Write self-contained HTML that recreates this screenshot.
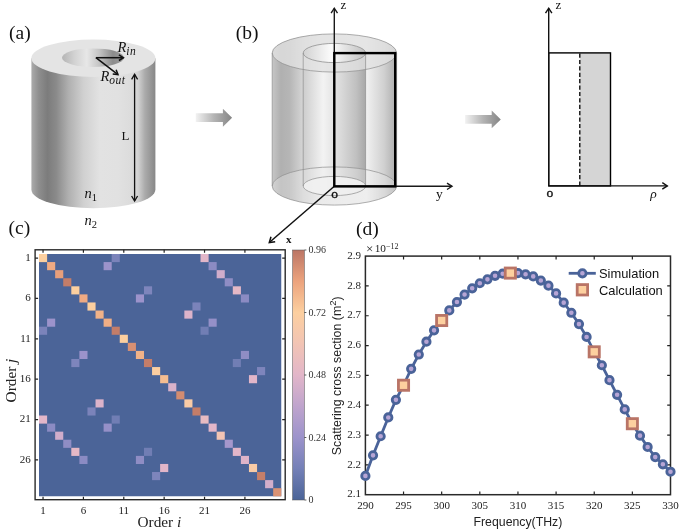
<!DOCTYPE html>
<html><head><meta charset="utf-8"><title>Figure</title>
<style>html,body{margin:0;padding:0;background:#fff}svg{display:block}</style></head>
<body>
<svg width="685" height="530" viewBox="0 0 685 530">
<defs>
<linearGradient id="gcyl" x1="0" x2="1" y1="0" y2="0">
<stop offset="0" stop-color="#ABABAB"/><stop offset="0.06" stop-color="#8E8E8E"/><stop offset="0.13" stop-color="#7C7C7C"/>
<stop offset="0.2" stop-color="#8A8A8A"/><stop offset="0.3" stop-color="#B0B0B0"/><stop offset="0.42" stop-color="#D0D0D0"/>
<stop offset="0.55" stop-color="#E2E2E2"/><stop offset="0.7" stop-color="#E1E1E1"/><stop offset="0.8" stop-color="#DCDCDC"/><stop offset="0.86" stop-color="#D2D2D2"/>
<stop offset="0.915" stop-color="#ABABAB"/><stop offset="1" stop-color="#878787"/></linearGradient>
<linearGradient id="ghole" x1="0" x2="1" y1="0" y2="0">
<stop offset="0" stop-color="#B4B4B4"/><stop offset="0.2" stop-color="#D2D2D2"/><stop offset="0.4" stop-color="#E7E7E7"/><stop offset="0.6" stop-color="#C4C4C4"/><stop offset="0.82" stop-color="#8C8C8C"/><stop offset="1" stop-color="#9C9C9C"/></linearGradient>
<linearGradient id="garr" x1="0" x2="1" y1="0" y2="0">
<stop offset="0" stop-color="#F2F2F2"/><stop offset="0.5" stop-color="#B4B4B4"/><stop offset="1" stop-color="#858585"/></linearGradient>
<linearGradient id="gb1" x1="0" x2="1" y1="0" y2="0">
<stop offset="0" stop-color="#C6C6C6"/><stop offset="0.07" stop-color="#B0B0B0"/><stop offset="0.14" stop-color="#B6B6B6"/><stop offset="0.25" stop-color="#D6D6D6"/><stop offset="0.4" stop-color="#ECECEC"/><stop offset="0.76" stop-color="#F0F0F0"/><stop offset="0.9" stop-color="#D0D0D0"/><stop offset="1" stop-color="#ACACAC"/></linearGradient>
<linearGradient id="gb2" x1="0" x2="1" y1="0" y2="0">
<stop offset="0" stop-color="#CDCDCD"/><stop offset="0.32" stop-color="#F3F3F3"/><stop offset="0.6" stop-color="#DADADA"/><stop offset="0.85" stop-color="#C0C0C0"/><stop offset="1" stop-color="#A8A8A8"/></linearGradient>
<linearGradient id="gb3" x1="0" x2="1" y1="0" y2="0"><stop offset="0" stop-color="#D2D2D2"/><stop offset="0.45" stop-color="#FBFBFB"/><stop offset="1" stop-color="#C0C0C0"/></linearGradient>
<linearGradient id="gcb" x1="0" x2="0" y1="1" y2="0">
<stop offset="0.0000" stop-color="#4B6498"/>
<stop offset="0.1250" stop-color="#7480B7"/>
<stop offset="0.2500" stop-color="#9C93CB"/>
<stop offset="0.3750" stop-color="#BFA4CD"/>
<stop offset="0.5000" stop-color="#E2B6C9"/>
<stop offset="0.6250" stop-color="#F2C4B4"/>
<stop offset="0.7500" stop-color="#FCCF9F"/>
<stop offset="0.8750" stop-color="#ECA37D"/>
<stop offset="1.0000" stop-color="#BB7565"/>
</linearGradient>
</defs>
<rect width="685" height="530" fill="#fff"/>
<path d="M31.400000000000006,58.2 L31.400000000000006,189.5 A62.0,18.7 0 0 0 155.4,189.5 L155.4,58.2 Z" fill="url(#gcyl)"/>
<ellipse cx="93.4" cy="58.2" rx="62.0" ry="18.7" fill="#E4E4E4"/>
<ellipse cx="93" cy="57.7" rx="31" ry="9.3" fill="url(#ghole)"/>
<line x1="95.90" y1="57.70" x2="123.40" y2="57.70" stroke="#111" stroke-width="1.5"/><polyline points="118.90,54.90 123.40,57.70 118.90,60.50" fill="none" stroke="#111" stroke-width="1.5" stroke-linejoin="miter"/>
<line x1="95.90" y1="57.70" x2="118.00" y2="74.60" stroke="#111" stroke-width="1.5"/><polyline points="116.13,69.64 118.00,74.60 112.72,74.09" fill="none" stroke="#111" stroke-width="1.5" stroke-linejoin="miter"/>
<line x1="134.60" y1="201.00" x2="134.60" y2="74.30" stroke="#111" stroke-width="1.3"/><polyline points="131.60,79.30 134.60,74.30 137.60,79.30" fill="none" stroke="#111" stroke-width="1.3" stroke-linejoin="miter"/><polyline points="137.60,196.00 134.60,201.00 131.60,196.00" fill="none" stroke="#111" stroke-width="1.3" stroke-linejoin="miter"/>
<text x="117.5" y="52" text-anchor="start" fill="#111" style='font-family:"Liberation Serif", "DejaVu Serif", serif;font-size:14.5px;font-style:italic;' >R<tspan dy="3" style="font-size:11.5px;letter-spacing:0.5px">in</tspan></text>
<text x="100.5" y="81" text-anchor="start" fill="#111" style='font-family:"Liberation Serif", "DejaVu Serif", serif;font-size:14.5px;font-style:italic;' >R<tspan dy="3" style="font-size:11.5px;letter-spacing:0.5px">out</tspan></text>
<text x="121.5" y="140.4" text-anchor="start" fill="#111" style='font-family:"Liberation Serif", "DejaVu Serif", serif;font-size:13px;' >L</text>
<text x="84.5" y="198.4" text-anchor="start" fill="#111" style='font-family:"Liberation Serif", "DejaVu Serif", serif;font-size:14.5px;font-style:italic;' >n<tspan dy="3" style="font-size:10.5px;font-style:normal">1</tspan></text>
<text x="84.5" y="225.3" text-anchor="start" fill="#111" style='font-family:"Liberation Serif", "DejaVu Serif", serif;font-size:14.5px;font-style:italic;' >n<tspan dy="3" style="font-size:10.5px;font-style:normal">2</tspan></text>
<text x="9" y="39.3" text-anchor="start" fill="#111" style='font-family:"Liberation Serif", "DejaVu Serif", serif;font-size:19.5px;' >(a)</text>
<text x="235.7" y="39.2" text-anchor="start" fill="#111" style='font-family:"Liberation Serif", "DejaVu Serif", serif;font-size:19.5px;' >(b)</text>
<text x="8.5" y="234.3" text-anchor="start" fill="#111" style='font-family:"Liberation Serif", "DejaVu Serif", serif;font-size:19.5px;' >(c)</text>
<text x="356" y="234.6" text-anchor="start" fill="#111" style='font-family:"Liberation Serif", "DejaVu Serif", serif;font-size:19.5px;' >(d)</text>
<path d="M195.8,113.35000000000001 L222.9,113.35000000000001 L222.9,108.7 L232.1,117.7 L222.9,126.7 L222.9,122.05 L195.8,122.05 Z" fill="url(#garr)"/>
<path d="M465.1,115.05000000000001 L491.7,115.05000000000001 L491.7,110.5 L500.8,119.4 L491.7,128.3 L491.7,123.75 L465.1,123.75 Z" fill="url(#garr)"/>
<path d="M272.2,53.0 L272.2,186.0 A62.2,19.1 0 0 0 396.59999999999997,186.0 L396.59999999999997,53.0 A62.2,19.1 0 0 0 272.2,53.0 Z" fill="url(#gb1)"/>
<path d="M303.2,53.0 L303.2,186.0 A31.2,9.6 0 0 0 365.59999999999997,186.0 L365.59999999999997,53.0 Z" fill="url(#gb2)"/>
<ellipse cx="334.4" cy="53.0" rx="62.2" ry="19.1" fill="#E2E2E2" fill-opacity="0.78" stroke="#8C8C8C" stroke-width="0.7"/>
<ellipse cx="334.4" cy="53.0" rx="31.2" ry="9.6" fill="url(#gb3)" stroke="#858585" stroke-width="0.7"/>
<ellipse cx="334.4" cy="186.0" rx="62.2" ry="19.1" fill="#EAEAEA" fill-opacity="0.35" stroke="#8E8E8E" stroke-width="0.7"/>
<ellipse cx="334.4" cy="186.0" rx="31.2" ry="9.6" fill="#F1F1F1" fill-opacity="0.9" stroke="#8E8E8E" stroke-width="0.7"/>
<line x1="272.2" y1="53.0" x2="272.2" y2="186.0" stroke="#8E8E8E" stroke-width="0.7"/>
<line x1="396.59999999999997" y1="53.0" x2="396.59999999999997" y2="186.0" stroke="#8E8E8E" stroke-width="0.7"/>
<line x1="303.2" y1="53.0" x2="303.2" y2="186.0" stroke="#8E8E8E" stroke-width="0.7"/>
<line x1="365.59999999999997" y1="53.0" x2="365.59999999999997" y2="186.0" stroke="#8E8E8E" stroke-width="0.7"/>
<line x1="334.30" y1="186.30" x2="334.30" y2="8.20" stroke="#1a1a1a" stroke-width="1.4"/><polyline points="331.10,13.20 334.30,8.20 337.50,13.20" fill="none" stroke="#1a1a1a" stroke-width="1.4" stroke-linejoin="miter"/>
<line x1="334.30" y1="186.30" x2="452.00" y2="186.30" stroke="#1a1a1a" stroke-width="1.4"/><polyline points="447.00,183.10 452.00,186.30 447.00,189.50" fill="none" stroke="#1a1a1a" stroke-width="1.4" stroke-linejoin="miter"/>
<line x1="334.30" y1="186.30" x2="269.30" y2="242.50" stroke="#111" stroke-width="1.5"/><polyline points="275.18,241.65 269.30,242.50 270.99,236.81" fill="none" stroke="#111" stroke-width="1.5" stroke-linejoin="miter"/>
<rect x="334.3" y="53.1" width="60.9" height="133.3" fill="none" stroke="#000" stroke-width="2.4"/>
<text x="340.5" y="9.3" text-anchor="start" fill="#111" style='font-family:"Liberation Serif", "DejaVu Serif", serif;font-size:13px;' >z</text>
<text x="436" y="198.3" text-anchor="start" fill="#111" style='font-family:"Liberation Serif", "DejaVu Serif", serif;font-size:13.5px;' >y</text>
<text x="286" y="243.3" text-anchor="start" fill="#111" style='font-family:"Liberation Serif", "DejaVu Serif", serif;font-size:11px;font-weight:bold;' >x</text>
<text x="331.3" y="197.6" text-anchor="start" fill="#111" style='font-family:"Liberation Serif", "DejaVu Serif", serif;font-size:13.5px;' stroke="#111" stroke-width="0.35">o</text>
<rect x="579.8" y="52.9" width="30.7" height="133" fill="#D5D5D5"/>
<rect x="548.7" y="52.9" width="61.8" height="133" fill="none" stroke="#000" stroke-width="1.4"/>
<line x1="579.8" y1="53.5" x2="579.8" y2="185.9" stroke="#000" stroke-width="1.3" stroke-dasharray="4.2,2.2"/>
<line x1="548.70" y1="185.90" x2="548.70" y2="8.20" stroke="#111" stroke-width="1.4"/><polyline points="545.50,13.20 548.70,8.20 551.90,13.20" fill="none" stroke="#111" stroke-width="1.4" stroke-linejoin="miter"/>
<line x1="548.70" y1="185.90" x2="667.30" y2="185.90" stroke="#111" stroke-width="1.4"/><polyline points="662.30,182.70 667.30,185.90 662.30,189.10" fill="none" stroke="#111" stroke-width="1.4" stroke-linejoin="miter"/>
<text x="555.6" y="8.9" text-anchor="start" fill="#111" style='font-family:"Liberation Serif", "DejaVu Serif", serif;font-size:13px;' >z</text>
<text x="546.6" y="197.3" text-anchor="start" fill="#111" style='font-family:"Liberation Serif", "DejaVu Serif", serif;font-size:13.5px;' stroke="#111" stroke-width="0.35">o</text>
<text x="650.3" y="197.6" text-anchor="start" fill="#111" style='font-family:"Liberation Serif", "DejaVu Serif", serif;font-size:13.5px;font-style:italic;' >ρ</text>
<rect x="39.0" y="254.0" width="242.25" height="242.25" fill="#4B6498"/>
<rect x="39.00" y="254.00" width="8.12" height="8.12" fill="#FCCF9F"/>
<rect x="47.08" y="262.07" width="8.12" height="8.12" fill="#EFAA83"/>
<rect x="55.15" y="270.15" width="8.12" height="8.12" fill="#E89F7B"/>
<rect x="63.22" y="278.23" width="8.12" height="8.12" fill="#C37D69"/>
<rect x="71.30" y="286.30" width="8.12" height="8.12" fill="#FCCF9F"/>
<rect x="79.38" y="294.38" width="8.12" height="8.12" fill="#EFAA83"/>
<rect x="87.45" y="302.45" width="8.12" height="8.12" fill="#FCCF9F"/>
<rect x="95.52" y="310.52" width="8.12" height="8.12" fill="#F1B288"/>
<rect x="103.60" y="318.60" width="8.12" height="8.12" fill="#F0AE85"/>
<rect x="111.67" y="326.68" width="8.12" height="8.12" fill="#C37D69"/>
<rect x="119.75" y="334.75" width="8.12" height="8.12" fill="#FCCF9F"/>
<rect x="127.82" y="342.82" width="8.12" height="8.12" fill="#D89073"/>
<rect x="135.90" y="350.90" width="8.12" height="8.12" fill="#F1B288"/>
<rect x="143.97" y="358.98" width="8.12" height="8.12" fill="#C37D69"/>
<rect x="152.05" y="367.05" width="8.12" height="8.12" fill="#FBCEA1"/>
<rect x="160.12" y="375.12" width="8.12" height="8.12" fill="#F5BD91"/>
<rect x="168.20" y="383.20" width="8.12" height="8.12" fill="#D9B2CA"/>
<rect x="176.27" y="391.27" width="8.12" height="8.12" fill="#D38C71"/>
<rect x="184.35" y="399.35" width="8.12" height="8.12" fill="#F9CBA6"/>
<rect x="192.42" y="407.42" width="8.12" height="8.12" fill="#C37D69"/>
<rect x="200.50" y="415.50" width="8.12" height="8.12" fill="#E7BBC2"/>
<rect x="208.57" y="423.57" width="8.12" height="8.12" fill="#E2B6C9"/>
<rect x="216.65" y="431.65" width="8.12" height="8.12" fill="#F2C4B4"/>
<rect x="224.72" y="439.73" width="8.12" height="8.12" fill="#A597CC"/>
<rect x="232.80" y="447.80" width="8.12" height="8.12" fill="#E2B6C9"/>
<rect x="240.87" y="455.88" width="8.12" height="8.12" fill="#DFB4C9"/>
<rect x="248.95" y="463.95" width="8.12" height="8.12" fill="#F9CBA6"/>
<rect x="257.02" y="472.02" width="8.12" height="8.12" fill="#C57F6A"/>
<rect x="265.10" y="480.10" width="8.12" height="8.12" fill="#D3AECB"/>
<rect x="273.17" y="488.17" width="8.12" height="8.12" fill="#DA9274"/>
<rect x="111.67" y="254.00" width="8.12" height="8.12" fill="#7B83BA"/>
<rect x="39.00" y="326.68" width="8.12" height="8.12" fill="#7B83BA"/>
<rect x="103.60" y="262.07" width="8.12" height="8.12" fill="#9C93CB"/>
<rect x="47.08" y="318.60" width="8.12" height="8.12" fill="#9C93CB"/>
<rect x="200.50" y="254.00" width="8.12" height="8.12" fill="#E2B6C9"/>
<rect x="39.00" y="415.50" width="8.12" height="8.12" fill="#E2B6C9"/>
<rect x="208.57" y="262.07" width="8.12" height="8.12" fill="#8B8BC3"/>
<rect x="47.08" y="423.57" width="8.12" height="8.12" fill="#8B8BC3"/>
<rect x="216.65" y="270.15" width="8.12" height="8.12" fill="#D0ADCB"/>
<rect x="55.15" y="431.65" width="8.12" height="8.12" fill="#D0ADCB"/>
<rect x="224.72" y="278.23" width="8.12" height="8.12" fill="#8F8DC4"/>
<rect x="63.22" y="439.73" width="8.12" height="8.12" fill="#8F8DC4"/>
<rect x="232.80" y="286.30" width="8.12" height="8.12" fill="#E5B8C6"/>
<rect x="71.30" y="447.80" width="8.12" height="8.12" fill="#E5B8C6"/>
<rect x="240.87" y="294.38" width="8.12" height="8.12" fill="#8B8BC3"/>
<rect x="79.38" y="455.88" width="8.12" height="8.12" fill="#8B8BC3"/>
<rect x="143.97" y="286.30" width="8.12" height="8.12" fill="#7E85BC"/>
<rect x="71.30" y="358.98" width="8.12" height="8.12" fill="#7E85BC"/>
<rect x="135.90" y="294.38" width="8.12" height="8.12" fill="#9C93CB"/>
<rect x="79.38" y="350.90" width="8.12" height="8.12" fill="#9C93CB"/>
<rect x="192.42" y="302.45" width="8.12" height="8.12" fill="#7B83BA"/>
<rect x="87.45" y="407.42" width="8.12" height="8.12" fill="#7B83BA"/>
<rect x="184.35" y="310.52" width="8.12" height="8.12" fill="#DCB3CA"/>
<rect x="95.52" y="399.35" width="8.12" height="8.12" fill="#DCB3CA"/>
<rect x="208.57" y="318.60" width="8.12" height="8.12" fill="#9590C8"/>
<rect x="103.60" y="423.57" width="8.12" height="8.12" fill="#9590C8"/>
<rect x="200.50" y="326.68" width="8.12" height="8.12" fill="#717EB4"/>
<rect x="111.67" y="415.50" width="8.12" height="8.12" fill="#717EB4"/>
<rect x="240.87" y="350.90" width="8.12" height="8.12" fill="#8F8DC4"/>
<rect x="135.90" y="455.88" width="8.12" height="8.12" fill="#8F8DC4"/>
<rect x="232.80" y="358.98" width="8.12" height="8.12" fill="#717EB4"/>
<rect x="143.97" y="447.80" width="8.12" height="8.12" fill="#717EB4"/>
<rect x="257.02" y="367.05" width="8.12" height="8.12" fill="#7E85BC"/>
<rect x="152.05" y="472.02" width="8.12" height="8.12" fill="#7E85BC"/>
<rect x="248.95" y="375.12" width="8.12" height="8.12" fill="#E2B6C9"/>
<rect x="160.12" y="463.95" width="8.12" height="8.12" fill="#E2B6C9"/>
<rect x="35.1" y="249.8" width="250.1" height="249.89999999999998" fill="none" stroke="#2a2a2a" stroke-width="1.4"/>
<path d="M43.04,249.8 v3 M43.04,499.7 v-3 M35.1,258.04 h3 M285.2,258.04 h-3" stroke="#222" stroke-width="1.2" fill="none"/>
<text x="43.04" y="513.6" text-anchor="middle" fill="#222" style='font-family:"Liberation Serif", "DejaVu Serif", serif;font-size:11px;' >1</text>
<text x="30.8" y="260.84" text-anchor="end" fill="#222" style='font-family:"Liberation Serif", "DejaVu Serif", serif;font-size:11px;' >1</text>
<path d="M83.41,249.8 v3 M83.41,499.7 v-3 M35.1,298.41 h3 M285.2,298.41 h-3" stroke="#222" stroke-width="1.2" fill="none"/>
<text x="83.41" y="513.6" text-anchor="middle" fill="#222" style='font-family:"Liberation Serif", "DejaVu Serif", serif;font-size:11px;' >6</text>
<text x="30.8" y="301.21" text-anchor="end" fill="#222" style='font-family:"Liberation Serif", "DejaVu Serif", serif;font-size:11px;' >6</text>
<path d="M123.79,249.8 v3 M123.79,499.7 v-3 M35.1,338.79 h3 M285.2,338.79 h-3" stroke="#222" stroke-width="1.2" fill="none"/>
<text x="123.79" y="513.6" text-anchor="middle" fill="#222" style='font-family:"Liberation Serif", "DejaVu Serif", serif;font-size:11px;' >11</text>
<text x="30.8" y="341.59" text-anchor="end" fill="#222" style='font-family:"Liberation Serif", "DejaVu Serif", serif;font-size:11px;' >11</text>
<path d="M164.16,249.8 v3 M164.16,499.7 v-3 M35.1,379.16 h3 M285.2,379.16 h-3" stroke="#222" stroke-width="1.2" fill="none"/>
<text x="164.16" y="513.6" text-anchor="middle" fill="#222" style='font-family:"Liberation Serif", "DejaVu Serif", serif;font-size:11px;' >16</text>
<text x="30.8" y="381.96" text-anchor="end" fill="#222" style='font-family:"Liberation Serif", "DejaVu Serif", serif;font-size:11px;' >16</text>
<path d="M204.54,249.8 v3 M204.54,499.7 v-3 M35.1,419.54 h3 M285.2,419.54 h-3" stroke="#222" stroke-width="1.2" fill="none"/>
<text x="204.54" y="513.6" text-anchor="middle" fill="#222" style='font-family:"Liberation Serif", "DejaVu Serif", serif;font-size:11px;' >21</text>
<text x="30.8" y="422.34" text-anchor="end" fill="#222" style='font-family:"Liberation Serif", "DejaVu Serif", serif;font-size:11px;' >21</text>
<path d="M244.91,249.8 v3 M244.91,499.7 v-3 M35.1,459.91 h3 M285.2,459.91 h-3" stroke="#222" stroke-width="1.2" fill="none"/>
<text x="244.91" y="513.6" text-anchor="middle" fill="#222" style='font-family:"Liberation Serif", "DejaVu Serif", serif;font-size:11px;' >26</text>
<text x="30.8" y="462.71" text-anchor="end" fill="#222" style='font-family:"Liberation Serif", "DejaVu Serif", serif;font-size:11px;' >26</text>
<text x="159.4" y="526.5" text-anchor="middle" fill="#222" style='font-family:"Liberation Serif", "DejaVu Serif", serif;font-size:15.3px;' >Order <tspan style="font-style:italic">i</tspan></text>
<text x="0" y="0" text-anchor="middle" fill="#222" style='font-family:"Liberation Serif", "DejaVu Serif", serif;font-size:15.3px;' transform="translate(16.1,380.5) rotate(-90)">Order <tspan style="font-style:italic">j</tspan></text>
<rect x="292.6" y="250" width="11.8" height="250" fill="url(#gcb)" stroke="#555" stroke-width="0.5"/>
<line x1="304.4" y1="250.00" x2="306.4" y2="250.00" stroke="#333" stroke-width="0.8"/>
<text x="308.6" y="253.20" text-anchor="start" fill="#333" style='font-family:"Liberation Serif", "DejaVu Serif", serif;font-size:10px;' >0.96</text>
<line x1="304.4" y1="312.50" x2="306.4" y2="312.50" stroke="#333" stroke-width="0.8"/>
<text x="308.6" y="315.70" text-anchor="start" fill="#333" style='font-family:"Liberation Serif", "DejaVu Serif", serif;font-size:10px;' >0.72</text>
<line x1="304.4" y1="375.00" x2="306.4" y2="375.00" stroke="#333" stroke-width="0.8"/>
<text x="308.6" y="378.20" text-anchor="start" fill="#333" style='font-family:"Liberation Serif", "DejaVu Serif", serif;font-size:10px;' >0.48</text>
<line x1="304.4" y1="437.50" x2="306.4" y2="437.50" stroke="#333" stroke-width="0.8"/>
<text x="308.6" y="440.70" text-anchor="start" fill="#333" style='font-family:"Liberation Serif", "DejaVu Serif", serif;font-size:10px;' >0.24</text>
<line x1="304.4" y1="500.00" x2="306.4" y2="500.00" stroke="#333" stroke-width="0.8"/>
<text x="308.6" y="503.20" text-anchor="start" fill="#333" style='font-family:"Liberation Serif", "DejaVu Serif", serif;font-size:10px;' >0</text>
<text x="0" y="0" text-anchor="start" fill="#222" style='font-family:"Liberation Sans", "DejaVu Sans", sans-serif;font-size:12.4px;' transform="translate(340.7,455.2) rotate(-90)">Scattering cross section (m<tspan dy="-5" style="font-size:9.5px">2</tspan><tspan dy="5">)</tspan></text>
<rect x="365.4" y="256.1" width="305.10" height="238.60" fill="#fff" stroke="#2a2a2a" stroke-width="1.5"/>
<text x="365.40" y="509.3" text-anchor="middle" fill="#222" style='font-family:"Liberation Serif", "DejaVu Serif", serif;font-size:11px;' >290</text>
<text x="403.54" y="509.3" text-anchor="middle" fill="#222" style='font-family:"Liberation Serif", "DejaVu Serif", serif;font-size:11px;' >295</text>
<path d="M403.54,494.7 v-3.3 M403.54,256.1 v3.3" stroke="#222" stroke-width="1.2" fill="none"/>
<text x="441.67" y="509.3" text-anchor="middle" fill="#222" style='font-family:"Liberation Serif", "DejaVu Serif", serif;font-size:11px;' >300</text>
<path d="M441.67,494.7 v-3.3 M441.67,256.1 v3.3" stroke="#222" stroke-width="1.2" fill="none"/>
<text x="479.81" y="509.3" text-anchor="middle" fill="#222" style='font-family:"Liberation Serif", "DejaVu Serif", serif;font-size:11px;' >305</text>
<path d="M479.81,494.7 v-3.3 M479.81,256.1 v3.3" stroke="#222" stroke-width="1.2" fill="none"/>
<text x="517.95" y="509.3" text-anchor="middle" fill="#222" style='font-family:"Liberation Serif", "DejaVu Serif", serif;font-size:11px;' >310</text>
<path d="M517.95,494.7 v-3.3 M517.95,256.1 v3.3" stroke="#222" stroke-width="1.2" fill="none"/>
<text x="556.09" y="509.3" text-anchor="middle" fill="#222" style='font-family:"Liberation Serif", "DejaVu Serif", serif;font-size:11px;' >315</text>
<path d="M556.09,494.7 v-3.3 M556.09,256.1 v3.3" stroke="#222" stroke-width="1.2" fill="none"/>
<text x="594.23" y="509.3" text-anchor="middle" fill="#222" style='font-family:"Liberation Serif", "DejaVu Serif", serif;font-size:11px;' >320</text>
<path d="M594.23,494.7 v-3.3 M594.23,256.1 v3.3" stroke="#222" stroke-width="1.2" fill="none"/>
<text x="632.36" y="509.3" text-anchor="middle" fill="#222" style='font-family:"Liberation Serif", "DejaVu Serif", serif;font-size:11px;' >325</text>
<path d="M632.36,494.7 v-3.3 M632.36,256.1 v3.3" stroke="#222" stroke-width="1.2" fill="none"/>
<text x="670.50" y="509.3" text-anchor="middle" fill="#222" style='font-family:"Liberation Serif", "DejaVu Serif", serif;font-size:11px;' >330</text>
<text x="361" y="497.40" text-anchor="end" fill="#222" style='font-family:"Liberation Serif", "DejaVu Serif", serif;font-size:11px;' >2.1</text>
<text x="361" y="467.57" text-anchor="end" fill="#222" style='font-family:"Liberation Serif", "DejaVu Serif", serif;font-size:11px;' >2.2</text>
<path d="M365.4,464.87 h3.3 M670.5,464.87 h-3.3" stroke="#222" stroke-width="1.2" fill="none"/>
<text x="361" y="437.75" text-anchor="end" fill="#222" style='font-family:"Liberation Serif", "DejaVu Serif", serif;font-size:11px;' >2.3</text>
<path d="M365.4,435.05 h3.3 M670.5,435.05 h-3.3" stroke="#222" stroke-width="1.2" fill="none"/>
<text x="361" y="407.92" text-anchor="end" fill="#222" style='font-family:"Liberation Serif", "DejaVu Serif", serif;font-size:11px;' >2.4</text>
<path d="M365.4,405.22 h3.3 M670.5,405.22 h-3.3" stroke="#222" stroke-width="1.2" fill="none"/>
<text x="361" y="378.10" text-anchor="end" fill="#222" style='font-family:"Liberation Serif", "DejaVu Serif", serif;font-size:11px;' >2.5</text>
<path d="M365.4,375.40 h3.3 M670.5,375.40 h-3.3" stroke="#222" stroke-width="1.2" fill="none"/>
<text x="361" y="348.28" text-anchor="end" fill="#222" style='font-family:"Liberation Serif", "DejaVu Serif", serif;font-size:11px;' >2.6</text>
<path d="M365.4,345.58 h3.3 M670.5,345.58 h-3.3" stroke="#222" stroke-width="1.2" fill="none"/>
<text x="361" y="318.45" text-anchor="end" fill="#222" style='font-family:"Liberation Serif", "DejaVu Serif", serif;font-size:11px;' >2.7</text>
<path d="M365.4,315.75 h3.3 M670.5,315.75 h-3.3" stroke="#222" stroke-width="1.2" fill="none"/>
<text x="361" y="288.62" text-anchor="end" fill="#222" style='font-family:"Liberation Serif", "DejaVu Serif", serif;font-size:11px;' >2.8</text>
<path d="M365.4,285.92 h3.3 M670.5,285.92 h-3.3" stroke="#222" stroke-width="1.2" fill="none"/>
<text x="361" y="258.80" text-anchor="end" fill="#222" style='font-family:"Liberation Serif", "DejaVu Serif", serif;font-size:11px;' >2.9</text>
<text x="365.9" y="253.3" text-anchor="start" fill="#222" style='font-family:"Liberation Serif", "DejaVu Serif", serif;font-size:13px;' >×</text>
<text x="374.7" y="252.3" text-anchor="start" fill="#222" style='font-family:"Liberation Serif", "DejaVu Serif", serif;font-size:11.3px;' >10</text>
<text x="386" y="248.6" text-anchor="start" fill="#222" style='font-family:"Liberation Serif", "DejaVu Serif", serif;font-size:8px;' >−12</text>
<text x="517.95" y="525.5" text-anchor="middle" fill="#222" style='font-family:"Liberation Sans", "DejaVu Sans", sans-serif;font-size:12.3px;' >Frequency(THz)</text>
<polyline points="365.40,475.91 373.03,455.33 380.65,436.24 388.28,417.45 395.91,399.86 403.54,385.24 411.16,368.84 418.79,354.52 426.42,341.70 434.05,330.36 441.67,320.52 449.30,310.38 456.93,302.03 464.56,294.57 472.18,288.31 479.81,283.24 487.44,279.36 495.07,275.78 502.69,273.70 510.32,273.10 517.95,273.10 525.58,274.29 533.21,276.38 540.83,280.56 548.46,285.63 556.09,293.38 563.72,302.63 571.34,312.77 578.97,324.10 586.60,336.93 594.23,351.84 601.85,365.26 609.48,380.17 617.11,394.79 624.74,409.40 632.36,423.72 639.99,435.65 647.62,446.98 655.25,457.12 662.87,464.28 670.50,471.73" fill="none" stroke="#4A6399" stroke-width="2.8" stroke-linejoin="round"/>
<circle cx="365.40" cy="475.91" r="3.7" fill="#B7A5D5" stroke="#4A6399" stroke-width="2.8"/>
<circle cx="373.03" cy="455.33" r="3.7" fill="#B7A5D5" stroke="#4A6399" stroke-width="2.8"/>
<circle cx="380.65" cy="436.24" r="3.7" fill="#B7A5D5" stroke="#4A6399" stroke-width="2.8"/>
<circle cx="388.28" cy="417.45" r="3.7" fill="#B7A5D5" stroke="#4A6399" stroke-width="2.8"/>
<circle cx="395.91" cy="399.86" r="3.7" fill="#B7A5D5" stroke="#4A6399" stroke-width="2.8"/>
<circle cx="403.54" cy="385.24" r="3.7" fill="#B7A5D5" stroke="#4A6399" stroke-width="2.8"/>
<circle cx="411.16" cy="368.84" r="3.7" fill="#B7A5D5" stroke="#4A6399" stroke-width="2.8"/>
<circle cx="418.79" cy="354.52" r="3.7" fill="#B7A5D5" stroke="#4A6399" stroke-width="2.8"/>
<circle cx="426.42" cy="341.70" r="3.7" fill="#B7A5D5" stroke="#4A6399" stroke-width="2.8"/>
<circle cx="434.05" cy="330.36" r="3.7" fill="#B7A5D5" stroke="#4A6399" stroke-width="2.8"/>
<circle cx="441.67" cy="320.52" r="3.7" fill="#B7A5D5" stroke="#4A6399" stroke-width="2.8"/>
<circle cx="449.30" cy="310.38" r="3.7" fill="#B7A5D5" stroke="#4A6399" stroke-width="2.8"/>
<circle cx="456.93" cy="302.03" r="3.7" fill="#B7A5D5" stroke="#4A6399" stroke-width="2.8"/>
<circle cx="464.56" cy="294.57" r="3.7" fill="#B7A5D5" stroke="#4A6399" stroke-width="2.8"/>
<circle cx="472.18" cy="288.31" r="3.7" fill="#B7A5D5" stroke="#4A6399" stroke-width="2.8"/>
<circle cx="479.81" cy="283.24" r="3.7" fill="#B7A5D5" stroke="#4A6399" stroke-width="2.8"/>
<circle cx="487.44" cy="279.36" r="3.7" fill="#B7A5D5" stroke="#4A6399" stroke-width="2.8"/>
<circle cx="495.07" cy="275.78" r="3.7" fill="#B7A5D5" stroke="#4A6399" stroke-width="2.8"/>
<circle cx="502.69" cy="273.70" r="3.7" fill="#B7A5D5" stroke="#4A6399" stroke-width="2.8"/>
<circle cx="510.32" cy="273.10" r="3.7" fill="#B7A5D5" stroke="#4A6399" stroke-width="2.8"/>
<circle cx="517.95" cy="273.10" r="3.7" fill="#B7A5D5" stroke="#4A6399" stroke-width="2.8"/>
<circle cx="525.58" cy="274.29" r="3.7" fill="#B7A5D5" stroke="#4A6399" stroke-width="2.8"/>
<circle cx="533.21" cy="276.38" r="3.7" fill="#B7A5D5" stroke="#4A6399" stroke-width="2.8"/>
<circle cx="540.83" cy="280.56" r="3.7" fill="#B7A5D5" stroke="#4A6399" stroke-width="2.8"/>
<circle cx="548.46" cy="285.63" r="3.7" fill="#B7A5D5" stroke="#4A6399" stroke-width="2.8"/>
<circle cx="556.09" cy="293.38" r="3.7" fill="#B7A5D5" stroke="#4A6399" stroke-width="2.8"/>
<circle cx="563.72" cy="302.63" r="3.7" fill="#B7A5D5" stroke="#4A6399" stroke-width="2.8"/>
<circle cx="571.34" cy="312.77" r="3.7" fill="#B7A5D5" stroke="#4A6399" stroke-width="2.8"/>
<circle cx="578.97" cy="324.10" r="3.7" fill="#B7A5D5" stroke="#4A6399" stroke-width="2.8"/>
<circle cx="586.60" cy="336.93" r="3.7" fill="#B7A5D5" stroke="#4A6399" stroke-width="2.8"/>
<circle cx="594.23" cy="351.84" r="3.7" fill="#B7A5D5" stroke="#4A6399" stroke-width="2.8"/>
<circle cx="601.85" cy="365.26" r="3.7" fill="#B7A5D5" stroke="#4A6399" stroke-width="2.8"/>
<circle cx="609.48" cy="380.17" r="3.7" fill="#B7A5D5" stroke="#4A6399" stroke-width="2.8"/>
<circle cx="617.11" cy="394.79" r="3.7" fill="#B7A5D5" stroke="#4A6399" stroke-width="2.8"/>
<circle cx="624.74" cy="409.40" r="3.7" fill="#B7A5D5" stroke="#4A6399" stroke-width="2.8"/>
<circle cx="632.36" cy="423.72" r="3.7" fill="#B7A5D5" stroke="#4A6399" stroke-width="2.8"/>
<circle cx="639.99" cy="435.65" r="3.7" fill="#B7A5D5" stroke="#4A6399" stroke-width="2.8"/>
<circle cx="647.62" cy="446.98" r="3.7" fill="#B7A5D5" stroke="#4A6399" stroke-width="2.8"/>
<circle cx="655.25" cy="457.12" r="3.7" fill="#B7A5D5" stroke="#4A6399" stroke-width="2.8"/>
<circle cx="662.87" cy="464.28" r="3.7" fill="#B7A5D5" stroke="#4A6399" stroke-width="2.8"/>
<circle cx="670.50" cy="471.73" r="3.7" fill="#B7A5D5" stroke="#4A6399" stroke-width="2.8"/>
<rect x="398.44" y="380.14" width="10.2" height="10.2" fill="#FDD09F" stroke="#B97466" stroke-width="2.8"/>
<rect x="436.57" y="315.42" width="10.2" height="10.2" fill="#FDD09F" stroke="#B97466" stroke-width="2.8"/>
<rect x="505.22" y="268.00" width="10.2" height="10.2" fill="#FDD09F" stroke="#B97466" stroke-width="2.8"/>
<rect x="589.12" y="346.74" width="10.2" height="10.2" fill="#FDD09F" stroke="#B97466" stroke-width="2.8"/>
<rect x="627.26" y="418.62" width="10.2" height="10.2" fill="#FDD09F" stroke="#B97466" stroke-width="2.8"/>
<line x1="568.7" y1="273.3" x2="595.8" y2="273.3" stroke="#4A6399" stroke-width="2.8"/>
<circle cx="582.4" cy="273.3" r="3.7" fill="#B7A5D5" stroke="#4A6399" stroke-width="2.8"/>
<rect x="577.2" y="284.6" width="10.4" height="10.4" fill="#FDD09F" stroke="#B97466" stroke-width="2.8"/>
<text x="599" y="278.1" text-anchor="start" fill="#111" style='font-family:"Liberation Sans", "DejaVu Sans", sans-serif;font-size:12.9px;' >Simulation</text>
<text x="599" y="294.8" text-anchor="start" fill="#111" style='font-family:"Liberation Sans", "DejaVu Sans", sans-serif;font-size:12.9px;' >Calculation</text>
</svg>
</body></html>
